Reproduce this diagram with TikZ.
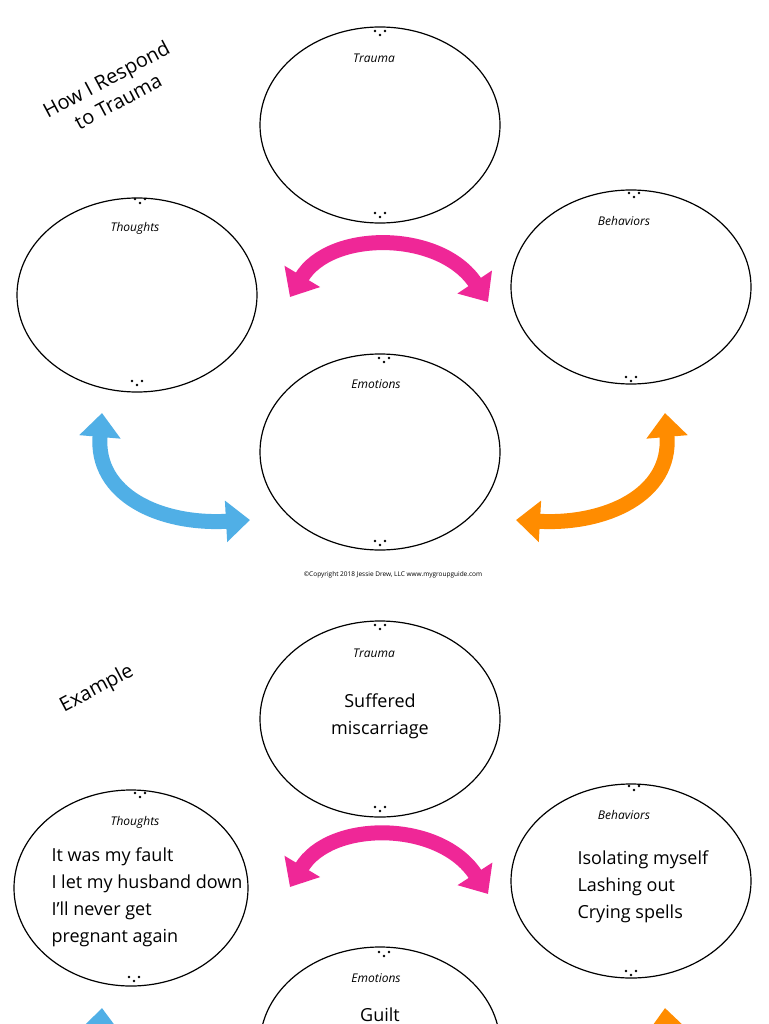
\documentclass[tikz,border=0pt]{standalone}
\usepackage{fontspec}
\setmainfont{Open Sans}
\usetikzlibrary{arrows.meta}
\tikzset{
 bub/.style={draw=black,line width=1.2pt},
 lab/.style={font=\fontsize{12}{14}\selectfont\itshape},
 big/.style={font=\fontsize{18}{27}\selectfont},
 dbl/.style={line width=15pt,{Triangle[width=40pt,length=24pt]}-{Triangle[width=40pt,length=24pt]}},
}
\newcommand{\mydots}[2]{\fill (#1-5,#2) circle (1.3pt) (#1+5,#2) circle (1.3pt) (#1,#2+4) circle (1.3pt);}
\begin{document}
\begin{tikzpicture}[x=1pt,y=-1pt]
\useasboundingbox (0,0) rectangle (768,1024);
\clip (0,0) rectangle (768,1024);
\fill[white] (0,0) rectangle (768,1024);
% top section
\draw[bub] (380,125) ellipse [x radius=120,y radius=98];
\draw[bub] (137,295) ellipse [x radius=120,y radius=97];
\draw[bub] (631,287) ellipse [x radius=120,y radius=97];
\draw[bub] (380,452) ellipse [x radius=120,y radius=98];
\node[lab] (t1) at (374,58) {Trauma};
\node[lab] (th1) at (135,228) {Thoughts};
\node[lab] (b1) at (624,221) {Behaviors};
\node[lab] (e1) at (376,384) {Emotions};
\mydots{380}{31}\mydots{380}{213}\mydots{140}{199}\mydots{137}{381}\mydots{634}{193}\mydots{631}{377}\mydots{384}{358}\mydots{380}{541}
\node[rotate=28,font=\fontsize{20}{25}\selectfont,align=center] (h1) at (112,90) {How I Respond\\to Trauma};
\draw[dbl,draw=magenta!80!pink] (290,297) .. controls (330,230) and (440,230) .. (488,302);
\draw[dbl,draw=cyan!80!blue!70] (102,413) .. controls (95,495) and (160,525) .. (250,520);
\draw[dbl,draw=orange!90!yellow] (665,413) .. controls (672,495) and (605,525) .. (516,520);
\node[font=\fontsize{6.5}{8}\selectfont] (cp) at (393,575) {©Copyright 2018 Jessie Drew, LLC www.mygroupguide.com};
% bottom section
\draw[bub] (380,719) ellipse [x radius=120,y radius=98];
\draw[bub] (131,888) ellipse [x radius=117,y radius=98];
\draw[bub] (631,881) ellipse [x radius=120,y radius=97];
\draw[bub] (380,1045) ellipse [x radius=120,y radius=98];
\node[lab] (t2) at (374,653) {Trauma};
\node[lab] (th2) at (135,822) {Thoughts};
\node[lab] (b2) at (624,815) {Behaviors};
\node[lab] (e2) at (376,978) {Emotions};
\mydots{380}{625}\mydots{380}{807}\mydots{140}{793}\mydots{134}{977}\mydots{634}{786}\mydots{631}{971}\mydots{384}{952}
\node[rotate=28,font=\fontsize{20}{25}\selectfont] (ex) at (97,689) {Example};
\node[big,align=center] (s2) at (380,716) {Suffered\\miscarriage};
\node[big,align=left,anchor=west] (tt2) at (48,897) {It was my fault\\I let my husband down\\I'll never get\\pregnant again};
\node[big,align=left,anchor=west] (bb2) at (574,887) {Isolating myself\\Lashing out\\Crying spells};
\node[big] (g2) at (380,1015) {Guilt};
\draw[dbl,draw=magenta!80!pink] (290,887) .. controls (330,820) and (440,820) .. (488,894);
\draw[dbl,draw=cyan!80!blue!70] (102,1008) .. controls (98,1060) and (120,1090) .. (160,1100);
\draw[dbl,draw=orange!90!yellow] (665,1008) .. controls (670,1060) and (650,1090) .. (610,1100);
\end{tikzpicture}
\end{document}
